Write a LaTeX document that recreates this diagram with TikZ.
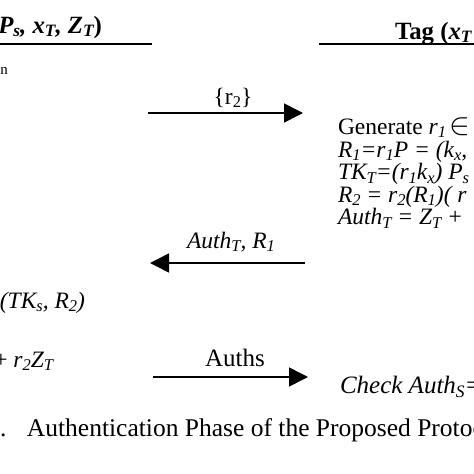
\documentclass[tikz,border=0pt]{standalone}
\usepackage{fontspec}
\setmainfont{Liberation Serif}
\usetikzlibrary{arrows.meta}
\newcommand\sbx[1]{\raisebox{-0.16em}{\scalebox{0.7}{#1}}}
\tikzset{
  txt/.style={inner sep=0pt, outer sep=0pt, font=\fontsize{23.5}{23.5}\selectfont},
  big/.style={inner sep=0pt, outer sep=0pt, font=\fontsize{25}{25}\selectfont},
  hdr/.style={inner sep=0pt, outer sep=0pt, font=\fontsize{24.8}{24.8}\selectfont\bfseries},
  captxt/.style={inner sep=0pt, outer sep=0pt, font=\fontsize{25.5}{25.5}\selectfont},
  rulel/.style={line width=1.6pt},
  msg/.style={line width=1.6pt, -{Triangle[length=19pt,width=19pt]}}
}
\begin{document}
\begin{tikzpicture}[x=1pt,y=-1pt]
\useasboundingbox (0,0) rectangle (474,474);
\fill[white] (0,0) rectangle (474,474);
\clip (0,0) rectangle (474,474);
% headers
\node[hdr, anchor=base east] (hdrL) at (102,33) {\textit{P\sbx{s}, x\sbx{T}, Z\sbx{T}})};
\draw[rulel] (0,44) -- (152,44);
\node[hdr, anchor=base west] (hdrR) at (395,39) {Tag (\textit{x\sbx{T}}};
\draw[rulel] (319,44) -- (474,44);
\node[inner sep=0pt, font=\fontsize{15}{15}\selectfont, anchor=base east] (nn) at (8,74) {n};
% message 1
\coordinate (a1s) at (148,113);
\coordinate (a1e) at (303,113);
\draw[msg] (a1s) -- (a1e);
\node[txt, anchor=base] (l1) at (233,104) {\{r\sbx{2}\}};
% tag computations
\node[txt, anchor=base west] (t1) at (338,134) {Generate \textit{r\sbx{1}}\,\scalebox{1.25}{$\in$}};
\node[txt, anchor=base west] (t2) at (338,157) {\textit{R\sbx{1}=r\sbx{1}P = (k\sbx{x},}};
\node[txt, anchor=base west] (t3) at (338,179.5) {\textit{TK\sbx{T}=(r\sbx{1}k\sbx{x}) P\sbx{s}}};
\node[txt, anchor=base west] (t4) at (338,202) {\textit{R\sbx{2} = r\sbx{2}(R\sbx{1})( r}};
\node[txt, anchor=base west] (t5) at (338,224.5) {\textit{Auth\sbx{T} = Z\sbx{T} +}};
% message 2
\coordinate (a2s) at (305,263);
\coordinate (a2e) at (150,263);
\draw[msg] (a2s) -- (a2e);
\node[txt, anchor=base] (l2) at (231,248) {\textit{Auth\sbx{T}, R\sbx{1}}};
% reader computations
\node[txt, anchor=base east] (s1) at (85,308) {\textit{(TK\sbx{s}, R\sbx{2})}};
\node[txt, anchor=base east] (s2) at (53,367) {+ \textit{r\sbx{2}Z\sbx{T}}};
% message 3
\coordinate (a3s) at (153,377);
\coordinate (a3e) at (308,377);
\draw[msg] (a3s) -- (a3e);
\node[big, anchor=base] (l3) at (235,366) {Auths};
\node[big, anchor=base west] (t6) at (340,393) {\textit{Check Auth\sbx{S}=}};
% caption
\node[captxt, anchor=base west] (dot) at (0,436) {.};
\node[captxt, anchor=base west] (caption) at (27,436) {Authentication Phase of the Proposed Protocol};
\end{tikzpicture}
\end{document}
